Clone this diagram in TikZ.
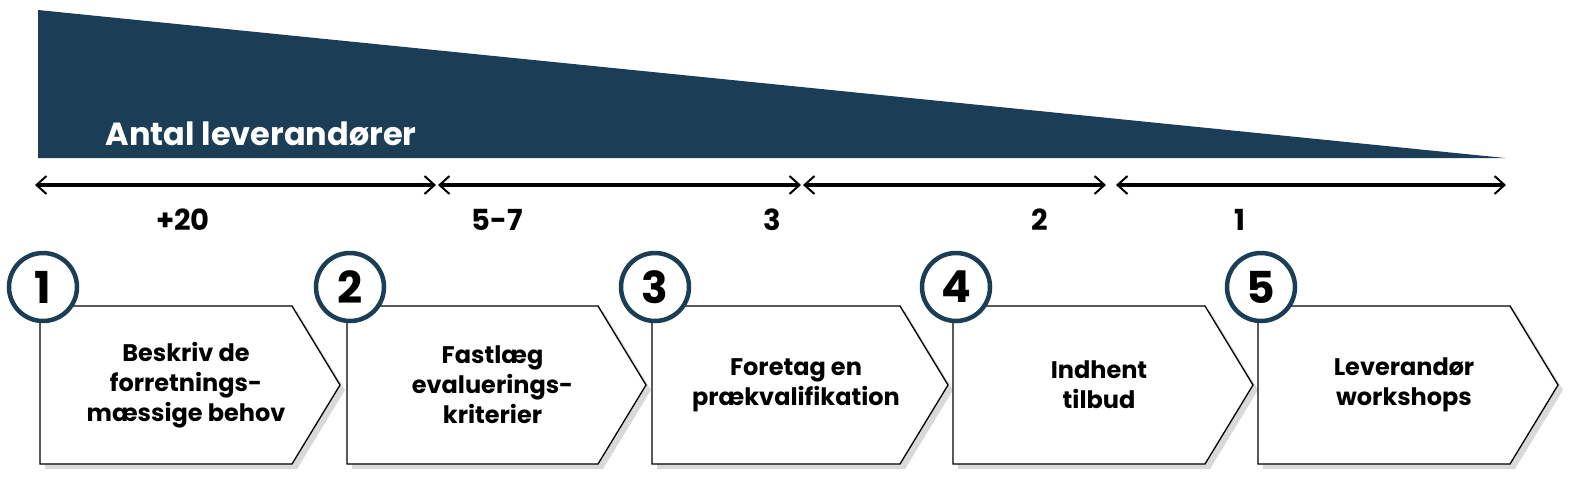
\documentclass[tikz,border=0pt]{standalone}
\usepackage{fontspec}
\setmainfont{Poppins}
\usetikzlibrary{arrows.meta}
\definecolor{navy}{HTML}{1B3D55}
\tikzset{x=1pt,y=-1pt,
 span/.style={{Straight Barb[length=10pt,width=18pt,line width=2pt]}-{Straight Barb[length=10pt,width=18pt,line width=2pt]},line width=3.5pt},
 cnt/.style={font=\bfseries\fontsize{29}{32}\selectfont},
 lbl/.style={font=\bfseries\fontsize{24}{30}\selectfont,align=center},
 num/.style={circle,draw=navy,line width=4.5pt,fill=white,minimum size=68pt,inner sep=0pt,font=\bfseries\fontsize{44}{46}\selectfont},
 pent/.style={draw=black,line width=1.3pt,fill=white}}
\begin{document}
\begin{tikzpicture}
\useasboundingbox (0,0) rectangle (1574,496);
\fill[navy] (38,10) -- (1505,158) -- (38,158) -- cycle;
\node[anchor=west,text=white,font=\bfseries\fontsize{32}{36}\selectfont] (ant) at (102,134) {Antal leverandører};
\coordinate (a0) at (35,185); \coordinate (a1) at (436,185);
\coordinate (b1) at (438,185); \coordinate (b2) at (801,185);
\coordinate (c2) at (803,185); \coordinate (c3) at (1106,185);
\coordinate (d3) at (1116,185); \coordinate (d4) at (1506,185);
\draw[span] (a0) -- (a1); \draw[span] (b1) -- (b2);
\draw[span] (c2) -- (c3); \draw[span] (d3) -- (d4);
\node[cnt] (n1) at (183,220) {+20};
\node[cnt] (n2) at (497,220) {5-7};
\node[cnt] (n3) at (772,220) {3};
\node[cnt] (n4) at (1040,220) {2};
\node[cnt] (n5) at (1240,220) {1};
\foreach \i/\x/\w/\t in {1/40/252/{Beskriv de\\forretnings-\\mæssige behov},2/347/251/{Fastlæg\\evaluerings-\\kriterier},3/652/248/{Foretag en\\prækvalifikation},4/953/252/{Indhent\\tilbud},5/1258/252/{Leverandør\\workshops}}{
 \fill[black!15] (\x+5,311) -- ++(\w,0) -- ++(48,79) -- ++(-48,79) -- ++(-\w,0) -- cycle;
 \draw[pent] (\x,306) -- ++(\w,0) -- ++(48,79) -- ++(-48,79) -- ++(-\w,0) -- cycle;
 \node[lbl] (t\i) at (\x+\w/2+20,385) {\t};
 \node[num] (c\i) at (\x+3,287) {\i};
}
\end{tikzpicture}
\end{document}
